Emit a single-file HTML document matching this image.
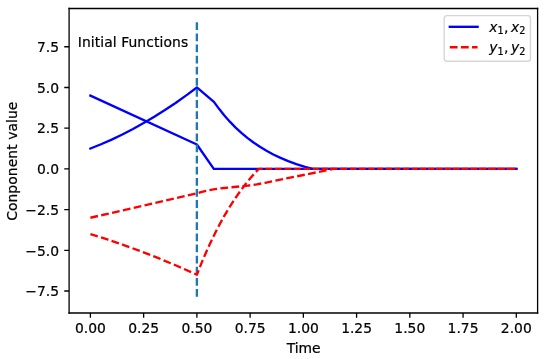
<!DOCTYPE html>
<html><head><meta charset="utf-8"><title>Plot</title>
<style>html,body{margin:0;padding:0;background:#fff;overflow:hidden;}svg{display:block;}</style></head>
<body>
<svg width="550" height="359" viewBox="0 0 550 359">
<rect x="0" y="0" width="550" height="359" fill="#ffffff"/>
<defs><clipPath id="ax"><rect x="69.100" y="8.500" width="468.500" height="304.500"/></clipPath></defs>
<g clip-path="url(#ax)" fill="none" stroke-linejoin="round">
<path d="M90.40 95.62 L196.87 144.47 L213.80 168.89 L516.30 168.89" stroke="#0000ff" stroke-width="2.3500" stroke-linecap="square"/>
<path d="M90.40 148.54 L101.04 144.26 L111.69 139.58 L122.34 134.49 L132.99 129.00 L143.63 123.09 L154.28 116.78 L164.93 110.07 L175.58 102.94 L187.29 94.64 L196.87 87.47 L213.91 101.89 L219.23 109.11 L224.56 115.68 L230.09 121.91 L235.63 127.56 L241.38 132.89 L247.34 137.87 L253.52 142.52 L259.91 146.83 L266.51 150.81 L273.32 154.47 L280.56 157.90 L288.23 161.10 L296.32 164.04 L305.05 166.79 L312.72 168.88 L516.30 168.89" stroke="#0000ff" stroke-width="2.3500" stroke-linecap="square"/>
<path d="M196.873 22.341 L196.873 299.159" stroke="#1f77b4" stroke-width="2.3500" stroke-dasharray="7.7569 3.3543"/>
<path d="M90.40 217.74 L196.87 193.32 L200.92 192.09 L207.52 190.51 L214.97 189.17 L224.13 187.97 L247.98 185.58 L256.71 184.36 L265.02 182.78 L333.59 168.89" stroke="#ff0000" stroke-width="2.3500" stroke-dasharray="7.7569 3.3543"/>
<path d="M90.40 234.03 L107.43 239.44 L124.47 245.28 L141.50 251.53 L158.54 258.20 L175.58 265.29 L192.61 272.79 L196.87 274.73 L202.20 261.39 L207.52 249.04 L212.84 237.63 L218.17 227.07 L223.70 216.94 L229.24 207.59 L234.78 198.97 L240.53 190.74 L246.28 183.17 L252.03 176.21 L257.99 169.59 L258.65 168.89" stroke="#ff0000" stroke-width="2.3500" stroke-dasharray="7.7569 3.3543"/>
<path d="M258.65 168.89 H262.75 M265.45 168.89 H272.25 M274.95 168.89 H281.75 M284.45 168.89 H291.35 M294.05 168.89 H300.75 M303.45 168.89 H310.15 M312.85 168.89 H319.15 M321.85 168.89 H328.15 M330.85 168.89 H337.25 M339.95 168.89 H347.15 M349.85 168.89 H356.35 M359.05 168.89 H365.65 M368.35 168.89 H374.55 M377.25 168.89 H383.15 M385.85 168.89 H391.85 M394.55 168.89 H400.45 M403.15 168.89 H409.15 M411.85 168.89 H417.80 M419.40 168.89 H426.00 M427.60 168.89 H434.40 M436.00 168.89 H442.80 M444.40 168.89 H451.00 M452.60 168.89 H459.70 M461.30 168.89 H468.50 M470.10 168.89 H477.20 M478.80 168.89 H486.30 M487.90 168.89 H495.70 M497.30 168.89 H504.80 M506.40 168.89 H515.10" stroke="#ff0000" stroke-width="2.3500"/>
</g>
<g stroke="#000000" stroke-width="1.3000" fill="none" stroke-linecap="square" stroke-linejoin="miter">
<path d="M69.100 313.000 L69.100 8.500"/>
<path d="M537.600 313.000 L537.600 8.500"/>
<path d="M69.100 313.000 L537.600 313.000"/>
<path d="M69.100 8.500 L537.600 8.500"/>
</g>
<path d="M90.395 313.000 V317.861 M143.634 313.000 V317.861 M196.873 313.000 V317.861 M250.111 313.000 V317.861 M303.350 313.000 V317.861 M356.589 313.000 V317.861 M409.827 313.000 V317.861 M463.066 313.000 V317.861 M516.305 313.000 V317.861 M69.100 291.017 H64.239 M69.100 250.309 H64.239 M69.100 209.600 H64.239 M69.100 168.892 H64.239 M69.100 128.183 H64.239 M69.100 87.475 H64.239 M69.100 46.766 H64.239" stroke="#000000" stroke-width="1.3000" fill="none"/>
<g font-family="'DejaVu Sans', 'Liberation Sans', sans-serif" font-size="13.8889" fill="#000000" stroke="#000000" stroke-width="0.22">
<text x="90.395" y="332.976" text-anchor="middle">0.00</text>
<text x="143.634" y="332.976" text-anchor="middle">0.25</text>
<text x="196.873" y="332.976" text-anchor="middle">0.50</text>
<text x="250.111" y="332.976" text-anchor="middle">0.75</text>
<text x="303.350" y="332.976" text-anchor="middle">1.00</text>
<text x="356.589" y="332.976" text-anchor="middle">1.25</text>
<text x="409.827" y="332.976" text-anchor="middle">1.50</text>
<text x="463.066" y="332.976" text-anchor="middle">1.75</text>
<text x="516.305" y="332.976" text-anchor="middle">2.00</text>
<text x="58.978" y="296.294" text-anchor="end">−7.5</text>
<text x="58.978" y="255.586" text-anchor="end">−5.0</text>
<text x="58.978" y="214.877" text-anchor="end">−2.5</text>
<text x="58.978" y="174.168" text-anchor="end">0.0</text>
<text x="58.978" y="133.460" text-anchor="end">2.5</text>
<text x="58.978" y="92.751" text-anchor="end">5.0</text>
<text x="58.978" y="52.043" text-anchor="end">7.5</text>
<text x="303.650" y="353.000" text-anchor="middle">Time</text>
<text x="17.308" y="161.250" text-anchor="middle" textLength="119.2" lengthAdjust="spacing" transform="rotate(-90 17.308 161.250)">Conponent value</text>
<text x="77.713" y="46.816" textLength="110.4" lengthAdjust="spacing">Initial Functions</text>
</g>
<path d="M446.978 15.600 H527.682 Q530.460 15.600 530.460 18.378 V58.422 Q530.460 61.200 527.682 61.200 H446.978 Q444.200 61.200 444.200 58.422 V18.378 Q444.200 15.600 446.978 15.600 Z" fill="#ffffff" fill-opacity="0.8" stroke="#cccccc" stroke-opacity="0.8" stroke-width="1.3889"/>
<path d="M449.800 26.800 H477.600" stroke="#0000ff" stroke-width="2.3500" stroke-linecap="square" fill="none"/>
<path d="M449.800 47.200 H477.600" stroke="#ff0000" stroke-width="2.3500" stroke-dasharray="7.7569 3.3543" fill="none"/>
<g transform="translate(489.194 32.453)" font-family="'DejaVu Sans', 'Liberation Sans', sans-serif" fill="#000000" stroke="#000000" stroke-width="0.18"><text><tspan x="0" y="-0.738" font-style="oblique" font-size="13.8889">x</tspan><tspan x="8.219" y="1.541" font-size="9.7222">1</tspan><tspan x="14.785" y="-0.738" font-size="13.8889">,</tspan><tspan x="21.906" y="-0.738" font-style="oblique" font-size="13.8889">x</tspan><tspan x="30.125" y="1.541" font-size="9.7222">2</tspan></text></g>
<g transform="translate(489.194 53.040)" font-family="'DejaVu Sans', 'Liberation Sans', sans-serif" fill="#000000" stroke="#000000" stroke-width="0.18"><text><tspan x="0" y="-0.738" font-style="oblique" font-size="13.8889">y</tspan><tspan x="8.219" y="1.541" font-size="9.7222">1</tspan><tspan x="14.785" y="-0.738" font-size="13.8889">,</tspan><tspan x="21.906" y="-0.738" font-style="oblique" font-size="13.8889">y</tspan><tspan x="30.125" y="1.541" font-size="9.7222">2</tspan></text></g>
</svg>
</body></html>
